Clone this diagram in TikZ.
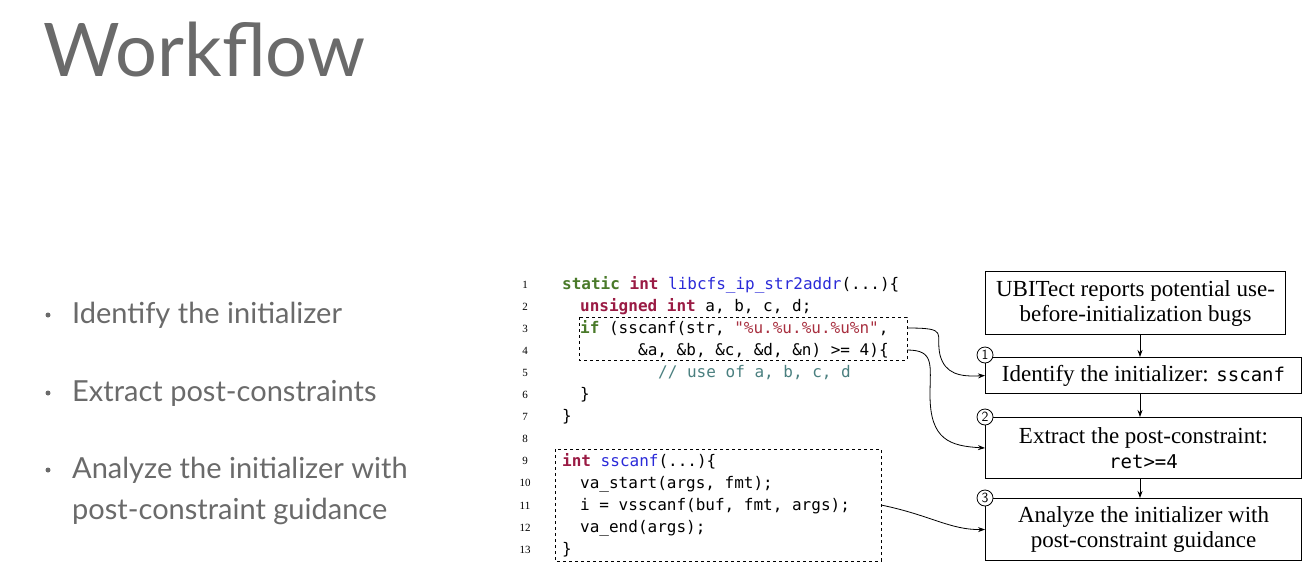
\documentclass[tikz,border=0pt]{standalone}
\usepackage{fontspec}
\setmainfont{Liberation Serif}
\setmonofont{DejaVu Sans Mono}
\newfontfamily\latofont{Lato}
\usetikzlibrary{arrows.meta}
\definecolor{kwg}{HTML}{4A7A2A}
\definecolor{kwr}{HTML}{9A1B44}
\definecolor{fnb}{HTML}{2A2AD8}
\definecolor{strr}{HTML}{A83040}
\definecolor{cmt}{HTML}{4A7F7F}
\definecolor{slide}{HTML}{6A6A6A}
\tikzset{
 code/.style={anchor=base west,inner sep=0pt,font=\ttfamily\fontsize{16}{16}\selectfont},
 lno/.style={anchor=base,inner sep=0pt,font=\fontsize{11}{12}\selectfont},
 flow/.style={draw,line width=1pt,inner sep=0pt,align=center,font=\fontsize{23}{25}\selectfont},
 num/.style={draw,circle,fill=white,inner sep=0pt,minimum size=16pt,line width=0.8pt,font=\sffamily\fontsize{14}{14}\selectfont},
 dbox/.style={draw,dashed,line width=0.8pt},
 arr/.style={-{Stealth[length=7pt,width=5pt]},line width=0.8pt},
 bul/.style={anchor=base west,inner sep=0pt,text=slide,font=\latofont\fontsize{29}{34}\selectfont,align=left},
 dot/.style={circle,fill=slide,inner sep=0pt,minimum size=5pt}
}
\begin{document}
\begin{tikzpicture}[x=1pt,y=-1pt]
\useasboundingbox (0,0) rectangle (1316,576);
\node[anchor=base west,inner sep=0pt,text=slide,font=\latofont\fontsize{74}{74}\selectfont] (title) at (43,76) {Workflow};
\node[bul] (b1) at (72,323) {Identify the initializer};
\node[bul] (b2) at (72,401) {Extract post-constraints};
\node[bul] (b3) at (72,478) {Analyze the initializer with};
\node[bul] (b4) at (72,519) {post-constraint guidance};
\node[dot] (d1) at (48,315) {};
\node[dot] (d2) at (48,393) {};
\node[dot] (d3) at (48,470) {};
% line numbers
\foreach \i in {1,...,13}{\node[lno] (l\i) at (525,{288+(\i-1)*22.1}) {\i};}
\node[code] (c1) at (562,289) {\textcolor{kwg}{\bfseries static} \textcolor{kwr}{\bfseries int} \textcolor{fnb}{libcfs\_ip\_str2addr}(...)\{};
\node[code] (c2) at (580,311) {\textcolor{kwr}{\bfseries unsigned int} a, b, c, d;};
\node[code] (c3) at (580,333) {\textcolor{kwg}{\bfseries if} (sscanf(str, \textcolor{strr}{"\%u.\%u.\%u.\%u\%n"},};
\node[code] (c4) at (638,355) {\&a, \&b, \&c, \&d, \&n) >= 4)\{};
\node[code] (c5) at (658,377) {\textcolor{cmt}{// use of a, b, c, d}};
\node[code] (c6) at (580,399) {\}};
\node[code] (c7) at (562,421) {\}};
\node[code] (c9) at (562,466) {\textcolor{kwr}{\bfseries int} \textcolor{fnb}{sscanf}(...)\{};
\node[code] (c10) at (580,488) {va\_start(args, fmt);};
\node[code] (c11) at (580,510) {i = vsscanf(buf, fmt, args);};
\node[code] (c12) at (580,532) {va\_end(args);};
\node[code] (c13) at (562,554) {\}};
\draw[dbox] (579,317) rectangle (907,360);
\draw[dbox] (555,449) rectangle (881,561);
\coordinate (o1) at (907,328);
\coordinate (o2) at (907,350);
\coordinate (o3) at (881,505);
% flow boxes
\node[flow,minimum width=300pt,minimum height=63pt,anchor=north west] (f0) at (985,271) {UBITect reports potential use-\\before-initialization bugs};
\node[flow,minimum width=316pt,minimum height=36pt,anchor=north west] (f1) at (985,357) {Identify the initializer: {\ttfamily\fontsize{19}{20}\selectfont sscanf}};
\node[flow,minimum width=316pt,minimum height=61pt,anchor=north west] (f2) at (985,417) {Extract the post-constraint:\\{\ttfamily\fontsize{19}{20}\selectfont ret>=4}};
\node[flow,minimum width=316pt,minimum height=62pt,anchor=north west] (f3) at (985,498) {Analyze the initializer with\\post-constraint guidance};
\draw[arr] (f0.south -| 1140,0) -- (1140,357);
\draw[arr] (1140,393) -- (1140,417);
\draw[arr] (1140,478) -- (1140,498);
\node[num] (n1) at (985,355) {1};
\node[num] (n2) at (985,417) {2};
\node[num] (n3) at (985,498) {3};
\draw[arr] (o1) .. controls (950,328) and (935,333) .. (940,355) .. controls (945,374) and (960,377) .. (f1.west);
\draw[arr] (o2) .. controls (935,350) and (930,365) .. (930,395) .. controls (930,440) and (950,446) .. (f2.west);
\draw[arr] (o3) .. controls (930,515) and (950,530) .. (f3.west);
\end{tikzpicture}
\end{document}
